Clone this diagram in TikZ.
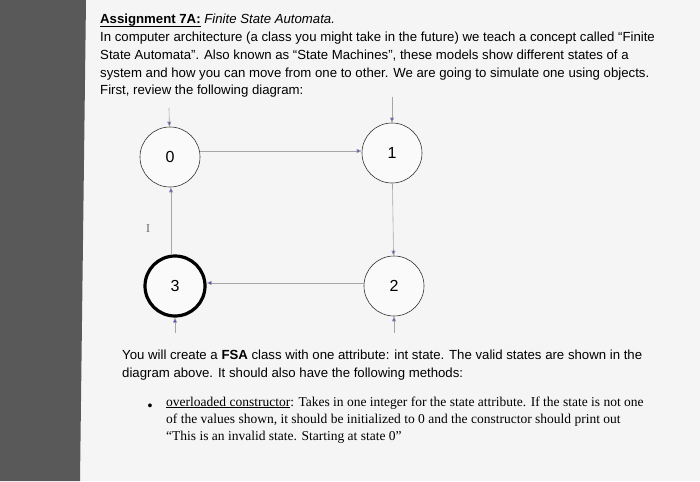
\documentclass[tikz,border=0pt]{standalone}
\usepackage{fontspec}
\setmainfont{Liberation Sans}
\newfontfamily\serifdoc{Liberation Serif}
\usetikzlibrary{arrows.meta}
\begin{document}
\begin{tikzpicture}[x=1pt,y=-1pt,
  st/.style={circle,draw=black!80,line width=0.6pt,minimum size=60pt,inner sep=0pt,font=\fontsize{16}{18}\selectfont,fill=white!96!gray},
  ed/.style={draw=gray!70,line width=0.6pt,-{Triangle[length=5pt,width=4pt,fill=blue!50!gray]}},
  ln/.style={anchor=base west,inner sep=0pt,font=\fontsize{13.2}{15}\selectfont},
  sl/.style={anchor=base west,inner sep=0pt,font=\serifdoc\fontsize{13.5}{15}\selectfont}]
\fill[white!92!gray] (0,0) rectangle (700,481);
\fill[black!65] (0,0) -- (86,0) -- (80,481) -- (0,481) -- cycle;
\node[ln] (t0) at (100,24) {\textbf{Assignment 7A:} \textit{Finite State Automata.}};
\draw[line width=0.7pt] (t0.base west) ++(0,2) -- ++(101,0);
\node[ln] (t1) at (100,42) {In computer architecture (a class you might take in the future) we teach a concept called “Finite};
\node[ln] (t2) at (100,60) {State Automata”. Also known as “State Machines”, these models show different states of a};
\node[ln] (t3) at (100,78) {system and how you can move from one to other. We are going to simulate one using objects.};
\node[ln] (t4) at (100,95) {First, review the following diagram:};
\node[st] (s0) at (170,157) {0};
\node[st] (s1) at (392,153) {1};
\node[st] (s2) at (394,286) {2};
\node[st,line width=3.2pt,draw=black] (s3) at (175,286) {3};
\coordinate (i0) at (169,108);
\coordinate (i1) at (392,97);
\coordinate (i2) at (394,333);
\coordinate (i3) at (175,333);
\draw[ed] (i0) -- (s0);
\draw[ed] (i1) -- (s1);
\draw[ed] (i2) -- (s2);
\draw[ed] (i3) -- (s3);
\draw[ed] (s0.east |- 0,151) -- (s1.west |- 0,151);
\draw[ed] (s1) -- (s2);
\draw[ed] (s2.west |- 0,283) -- (s3.east |- 0,283);
\draw[ed] (s3.north -| 171,0) -- (s0.south -| 171,0);
\node[font=\serifdoc\fontsize{12}{12}\selectfont,text=black!60] (cur) at (148,229) {I};
\node[ln] (u1) at (122,359) {You will create a \textbf{FSA} class with one attribute: int state. The valid states are shown in the};
\node[ln] (u2) at (122,377) {diagram above. It should also have the following methods:};
\node[anchor=center,inner sep=0pt,font=\fontsize{14}{14}\selectfont] (bul) at (150,407) {•};
\node[sl] (b1) at (166,406) {\underline{overloaded constructor}: Takes in one integer for the state attribute. If the state is not one};
\node[sl] (b2) at (166,423) {of the values shown, it should be initialized to 0 and the constructor should print out};
\node[sl] (b3) at (166,440) {“This is an invalid state. Starting at state 0”};
\end{tikzpicture}
\end{document}
